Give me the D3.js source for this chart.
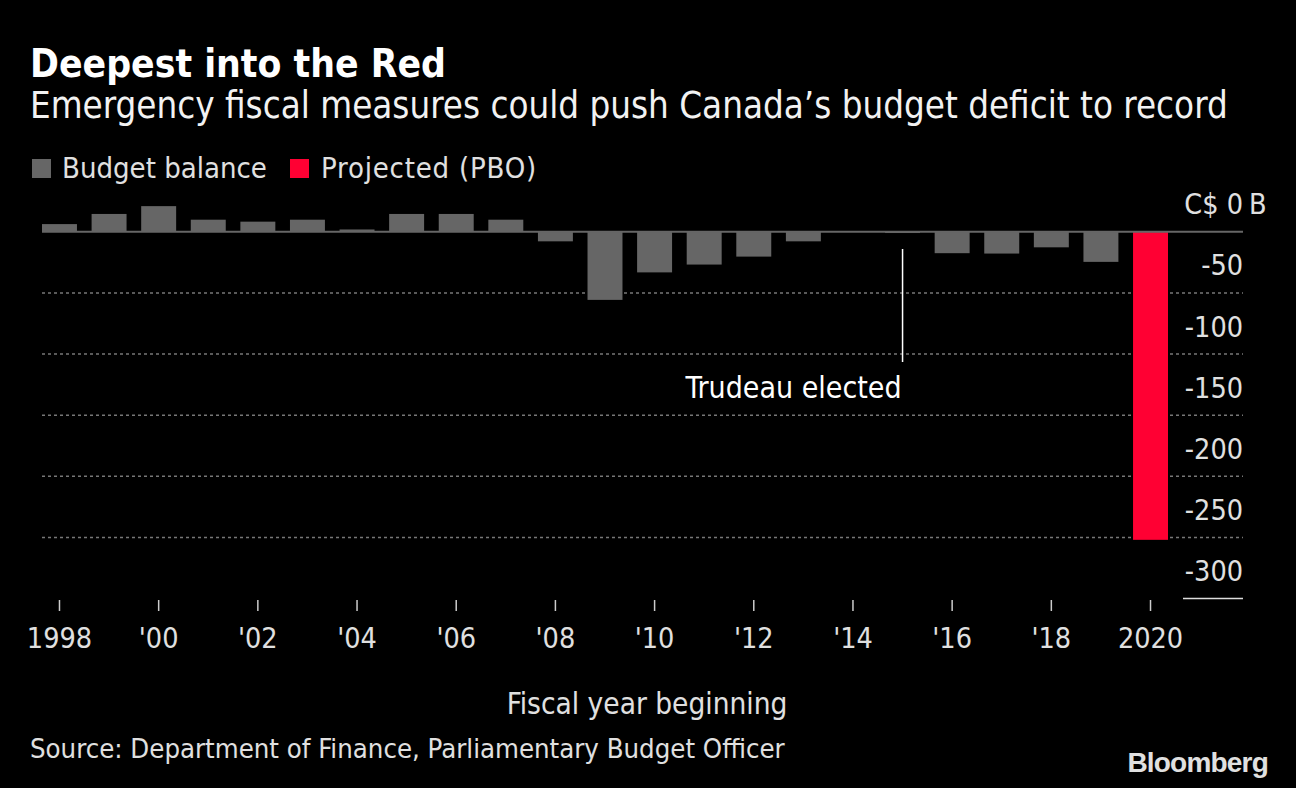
<!DOCTYPE html>
<html>
<head>
<meta charset="utf-8">
<script src="https://cdn.jsdelivr.net/npm/d3@7"></script>
<style>
  html, body { margin: 0; padding: 0; background: #000; }
  svg { display: block; }
  text { font-family: "DejaVu Sans Condensed", "DejaVu Sans", sans-serif; }
</style>
</head>
<body>
<svg id="chart" width="1296" height="788"></svg>
<script>
const years = [1998,1999,2000,2001,2002,2003,2004,2005,2006,2007,2008,2009,2010,2011,2012,2013,2014,2015,2016,2017,2018,2019,2020];
const balance = [6.3,14.6,21.0,9.9,8.3,9.9,1.9,14.6,14.6,9.9,-7.8,-55.7,-33.2,-26.8,-20.3,-7.8,0,-1.0,-17.5,-17.8,-12.7,-24.6,-252];
const projected = [false,false,false,false,false,false,false,false,false,false,false,false,false,false,false,false,false,false,false,false,false,false,true];
const yTicks = [0,-50,-100,-150,-200,-250,-300];
const yTickLabels = ["C$ 0","-50","-100","-150","-200","-250","-300"];
const xTickYears = [1998,2000,2002,2004,2006,2008,2010,2012,2014,2016,2018,2020];
const xTickLabels = ["1998","'00","'02","'04","'06","'08","'10","'12","'14","'16","'18","2020"];
const legendItems = ["Budget balance","Projected (PBO)"];

const svg = d3.select("#chart");
const gray = "#666666", red = "#ff0033", txt = "#e0e0e0";

const x = d3.scaleBand().domain(years).range([42, 1168]).paddingInner(0.295).paddingOuter(0);
const y = d3.scaleLinear().domain([-300, 0]).range([598.5, 231.8]);

// Title / subtitle
svg.append("text").attr("x", 30).attr("y", 77).attr("fill", "#fff")
  .attr("font-size", 38.7).attr("font-weight", "bold").text("Deepest into the Red");
svg.append("text").attr("x", 30).attr("y", 118).attr("fill", "#f2f2f2")
  .attr("font-size", 36.4).text("Emergency fiscal measures could push Canada\u2019s budget deficit to record");

// Legend
const lg = svg.append("g");
lg.append("rect").attr("x", 32).attr("y", 159).attr("width", 19).attr("height", 19).attr("fill", gray);
lg.append("text").attr("x", 62).attr("y", 178).attr("fill", txt).attr("font-size", 29).text(legendItems[0]);
lg.append("rect").attr("x", 290).attr("y", 159).attr("width", 19).attr("height", 19).attr("fill", red);
lg.append("text").attr("x", 321).attr("y", 178).attr("fill", txt).attr("font-size", 29)
  .attr("letter-spacing", 0.8).text(legendItems[1]);

// Gridlines
svg.append("g").selectAll("line").data(yTicks.filter(d => d < 0 && d > -300)).join("line")
  .attr("x1", 42).attr("x2", 1243).attr("y1", d => y(d)).attr("y2", d => y(d))
  .attr("stroke", "#777").attr("stroke-width", 1.5).attr("stroke-dasharray", "3,3");
svg.append("line").attr("x1", 1183).attr("x2", 1243).attr("y1", y(-300)).attr("y2", y(-300))
  .attr("stroke", "#ddd").attr("stroke-width", 1.5);

// Bars
svg.append("g").selectAll("rect").data(years.map((yr, i) => ({yr, v: balance[i], p: projected[i]}))).join("rect")
  .attr("x", d => x(d.yr)).attr("width", x.bandwidth())
  .attr("y", d => Math.min(y(d.v), y(0))).attr("height", d => Math.abs(y(d.v) - y(0)))
  .attr("fill", d => d.p ? red : gray);

// Zero line
svg.append("line").attr("x1", 42).attr("x2", 1243).attr("y1", y(0)).attr("y2", y(0))
  .attr("stroke", "#666").attr("stroke-width", 2);

// Y labels
svg.append("g").selectAll("text").data(yTicks).join("text")
  .attr("x", 1243).attr("y", d => y(d) - 17.5).attr("text-anchor", "end")
  .attr("fill", txt).attr("font-size", 28.5).text((d, i) => yTickLabels[i]);
svg.append("text").attr("x", 1249).attr("y", y(0) - 17.5).attr("fill", txt)
  .attr("font-size", 28.5).text("B");

// X ticks
const xg = svg.append("g");
xg.selectAll("line").data(xTickYears).join("line")
  .attr("x1", d => x(d) + x.bandwidth() / 2).attr("x2", d => x(d) + x.bandwidth() / 2)
  .attr("y1", 600).attr("y2", 611).attr("stroke", "#ccc").attr("stroke-width", 1.5);
xg.selectAll("text").data(xTickYears).join("text")
  .attr("x", d => x(d) + x.bandwidth() / 2).attr("y", 648).attr("text-anchor", "middle")
  .attr("fill", txt).attr("font-size", 28.5).text((d, i) => xTickLabels[i]);

// Annotation
const ax = x(2015) + x.bandwidth() / 2;
svg.append("line").attr("x1", ax).attr("x2", ax).attr("y1", 249).attr("y2", 362)
  .attr("stroke", "#fff").attr("stroke-width", 1.5);
svg.append("text").attr("x", ax - 1).attr("y", 398).attr("text-anchor", "end")
  .attr("fill", "#fff").attr("font-size", 30).text("Trudeau elected");

// Axis title, source, logo
svg.append("text").attr("x", 647).attr("y", 714).attr("text-anchor", "middle")
  .attr("fill", txt).attr("font-size", 29.5).text("Fiscal year beginning");
svg.append("text").attr("x", 30).attr("y", 758).attr("fill", txt)
  .attr("font-size", 27.3).text("Source: Department of Finance, Parliamentary Budget Officer");
svg.append("text").attr("x", 1268).attr("y", 772).attr("text-anchor", "end").attr("fill", "#e0e0e0")
  .attr("font-size", 28).attr("font-weight", "bold").attr("letter-spacing", -0.8)
  .style("font-family", "'Liberation Sans', Arial, sans-serif").text("Bloomberg");
</script>
</body>
</html>
